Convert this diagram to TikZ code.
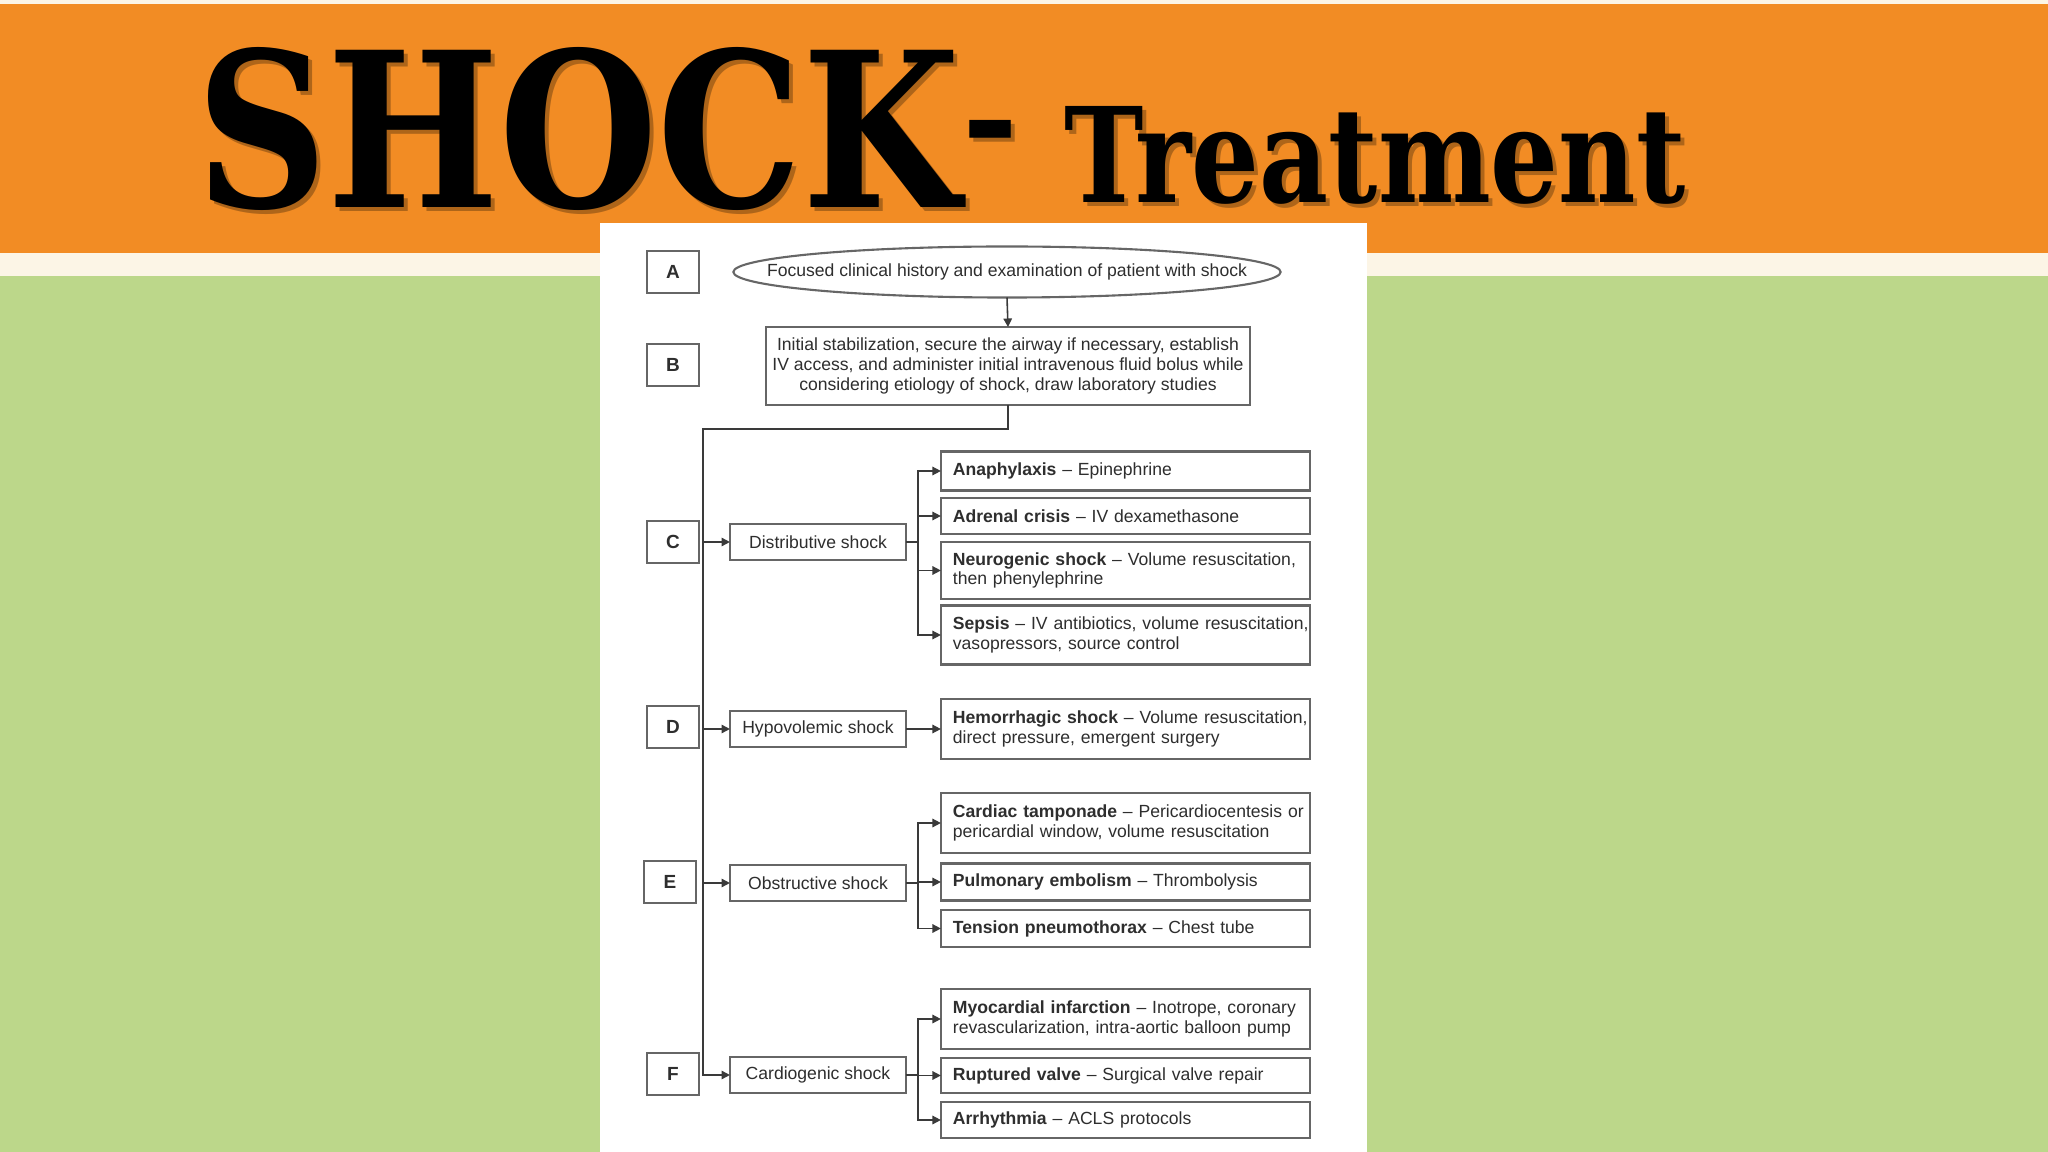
\documentclass[tikz,border=0pt]{standalone}
\usepackage{fontspec}
\setmainfont{Liberation Sans}
\newfontfamily\titlefont{DejaVu Serif}
\usetikzlibrary{arrows.meta,shapes.geometric}
\definecolor{orangeband}{HTML}{F28C24}
\definecolor{creamband}{HTML}{FCF5E6}
\definecolor{greenbg}{HTML}{BCD78A}
\definecolor{linegray}{HTML}{3A3A3A}
\definecolor{boxgray}{HTML}{666666}
\definecolor{txtgray}{HTML}{2E2E2E}
\newcommand{\tline}[1]{\makebox[0pt][l]{#1}}
\begin{document}
\begin{tikzpicture}[x=0.01cm,y=-0.01cm,
  every node/.style={inner sep=0pt, outer sep=0pt},
  lbl/.style={draw=boxgray, line width=0.6pt, fill=white, minimum width=0.52cm, minimum height=0.42cm, font=\fontsize{5.4}{6}\selectfont\bfseries, text=txtgray},
  shockbox/.style={draw=boxgray, line width=0.6pt, minimum width=1.76cm, minimum height=0.36cm, font=\fontsize{5}{5.5}\selectfont, text=txtgray},
  txbox/.style={draw=boxgray, line width=0.6pt, minimum width=3.69cm, text width=3.45cm, align=left, inner xsep=0.12cm, font=\fontsize{5}{5.5}\selectfont, text=txtgray},
  conn/.style={draw=linegray, line width=0.45pt},
  arr/.style={conn, -{Triangle[length=2.4pt,width=2.4pt]}},
  ttl/.style={anchor=base west, font=\titlefont\bfseries},
  ttlshadow/.style={ttl, text=black, opacity=0.28},
]
\useasboundingbox (0,0) rectangle (2048,1152);
% background
\fill[greenbg] (0,0) rectangle (2048,1152);
\fill[creamband] (0,0) rectangle (2048,276);
\fill[orangeband] (0,4) rectangle (2048,253);
\fill[white] (600,223) rectangle (1367,1152);
% title
\node[ttlshadow] at (200,212) {\resizebox{7.64cm}{1.60cm}{SHOCK}};
\node[ttl] (t1) at (196,208) {\resizebox{7.64cm}{1.60cm}{SHOCK}};
\node[ttlshadow] at (966,170) {\resizebox{0.56cm}{!}{-}};
\node[ttl] (t1b) at (962,166) {\resizebox{0.56cm}{!}{-}};
\node[ttlshadow] at (1068,207) {\resizebox{6.21cm}{0.96cm}{Treatment}};
\node[ttl] (t2) at (1064,203) {\resizebox{6.21cm}{0.96cm}{Treatment}};
% labels
\node[lbl] (A) at (673,272) {A};
\node[lbl] (B) at (673,365) {B};
\node[lbl] (C) at (673,542) {C};
\node[lbl] (D) at (673,727) {D};
\node[lbl] (E) at (670,882) {E};
\node[lbl] (F) at (673,1074) {F};
% top
\node[draw=boxgray, line width=0.6pt, ellipse, minimum width=5.47cm, minimum height=0.51cm, font=\fontsize{5}{5.5}\selectfont, text=txtgray] (hist) at (1007,272) {\makebox[0pt]{Focused clinical history and examination of patient with shock}};
\node[draw=boxgray, line width=0.6pt, align=center, minimum width=4.84cm, minimum height=0.78cm, font=\fontsize{5}{5.6}\selectfont, text=txtgray] (init) at (1008,366) {Initial stabilization, secure the airway if necessary, establish\\IV access, and administer initial intravenous fluid bolus while\\considering etiology of shock, draw laboratory studies};
\draw[arr] (hist.south) -- (init.north);
% shock types
\node[shockbox] (distr) at (818,542) {Distributive shock};
\node[shockbox] (hypo) at (818,729) {Hypovolemic shock};
\node[shockbox] (obst) at (818,883) {Obstructive shock};
\node[shockbox] (cardio) at (818,1075) {Cardiogenic shock};
% trunk
\coordinate (elbow) at (703,429);
\draw[arr] (init.south) |- (elbow) |- (cardio.west);
\draw[arr] (distr.west -| elbow) -- (distr.west);
\draw[arr] (hypo.west -| elbow) -- (hypo.west);
\draw[arr] (obst.west -| elbow) -- (obst.west);
% treatments
\node[txbox, minimum height=0.39cm] (ana) at (1125.5,471) {\tline{\textbf{Anaphylaxis} -- Epinephrine}};
\node[txbox, minimum height=0.36cm] (adr) at (1125.5,516) {\tline{\textbf{Adrenal crisis} -- IV dexamethasone}};
\node[txbox, minimum height=0.57cm] (neu) at (1125.5,570.5) {\tline{\textbf{Neurogenic shock} -- Volume resuscitation,}\\\tline{then phenylephrine}};
\node[txbox, minimum height=0.59cm] (sep) at (1125.5,635) {\tline{\textbf{Sepsis} -- IV antibiotics, volume resuscitation,}\\\tline{vasopressors, source control}};
\node[txbox, minimum height=0.60cm] (hem) at (1125.5,729) {\tline{\textbf{Hemorrhagic shock} -- Volume resuscitation,}\\\tline{direct pressure, emergent surgery}};
\node[txbox, minimum height=0.60cm] (tam) at (1125.5,823) {\tline{\textbf{Cardiac tamponade} -- Pericardiocentesis or}\\\tline{pericardial window, volume resuscitation}};
\node[txbox, minimum height=0.37cm] (pul) at (1125.5,882) {\tline{\textbf{Pulmonary embolism} -- Thrombolysis}};
\node[txbox, minimum height=0.37cm] (ten) at (1125.5,928.5) {\tline{\textbf{Tension pneumothorax} -- Chest tube}};
\node[txbox, minimum height=0.60cm] (mi) at (1125.5,1019) {\tline{\textbf{Myocardial infarction} -- Inotrope, coronary}\\\tline{revascularization, intra-aortic balloon pump}};
\node[txbox, minimum height=0.35cm] (rup) at (1125.5,1075.5) {\tline{\textbf{Ruptured valve} -- Surgical valve repair}};
\node[txbox, minimum height=0.36cm] (arrh) at (1125.5,1120) {\tline{\textbf{Arrhythmia} -- ACLS protocols}};
% buses
\coordinate (busC) at (918,542);
\coordinate (busE) at (918,883);
\coordinate (busF) at (918,1075);
\draw[conn] (distr.east) -- (busC);
\draw[arr] (busC) |- (ana.west);
\draw[arr] (busC) |- (adr.west);
\draw[arr] (busC) |- (neu.west);
\draw[arr] (busC) |- (sep.west);
\draw[arr] (hypo.east) -- (hem.west);
\draw[conn] (obst.east) -- (busE);
\draw[arr] (busE) |- (tam.west);
\draw[arr] (busE) |- (pul.west);
\draw[arr] (busE) |- (ten.west);
\draw[conn] (cardio.east) -- (busF);
\draw[arr] (busF) |- (mi.west);
\draw[arr] (busF) |- (rup.west);
\draw[arr] (busF) |- (arrh.west);
\end{tikzpicture}
\end{document}
